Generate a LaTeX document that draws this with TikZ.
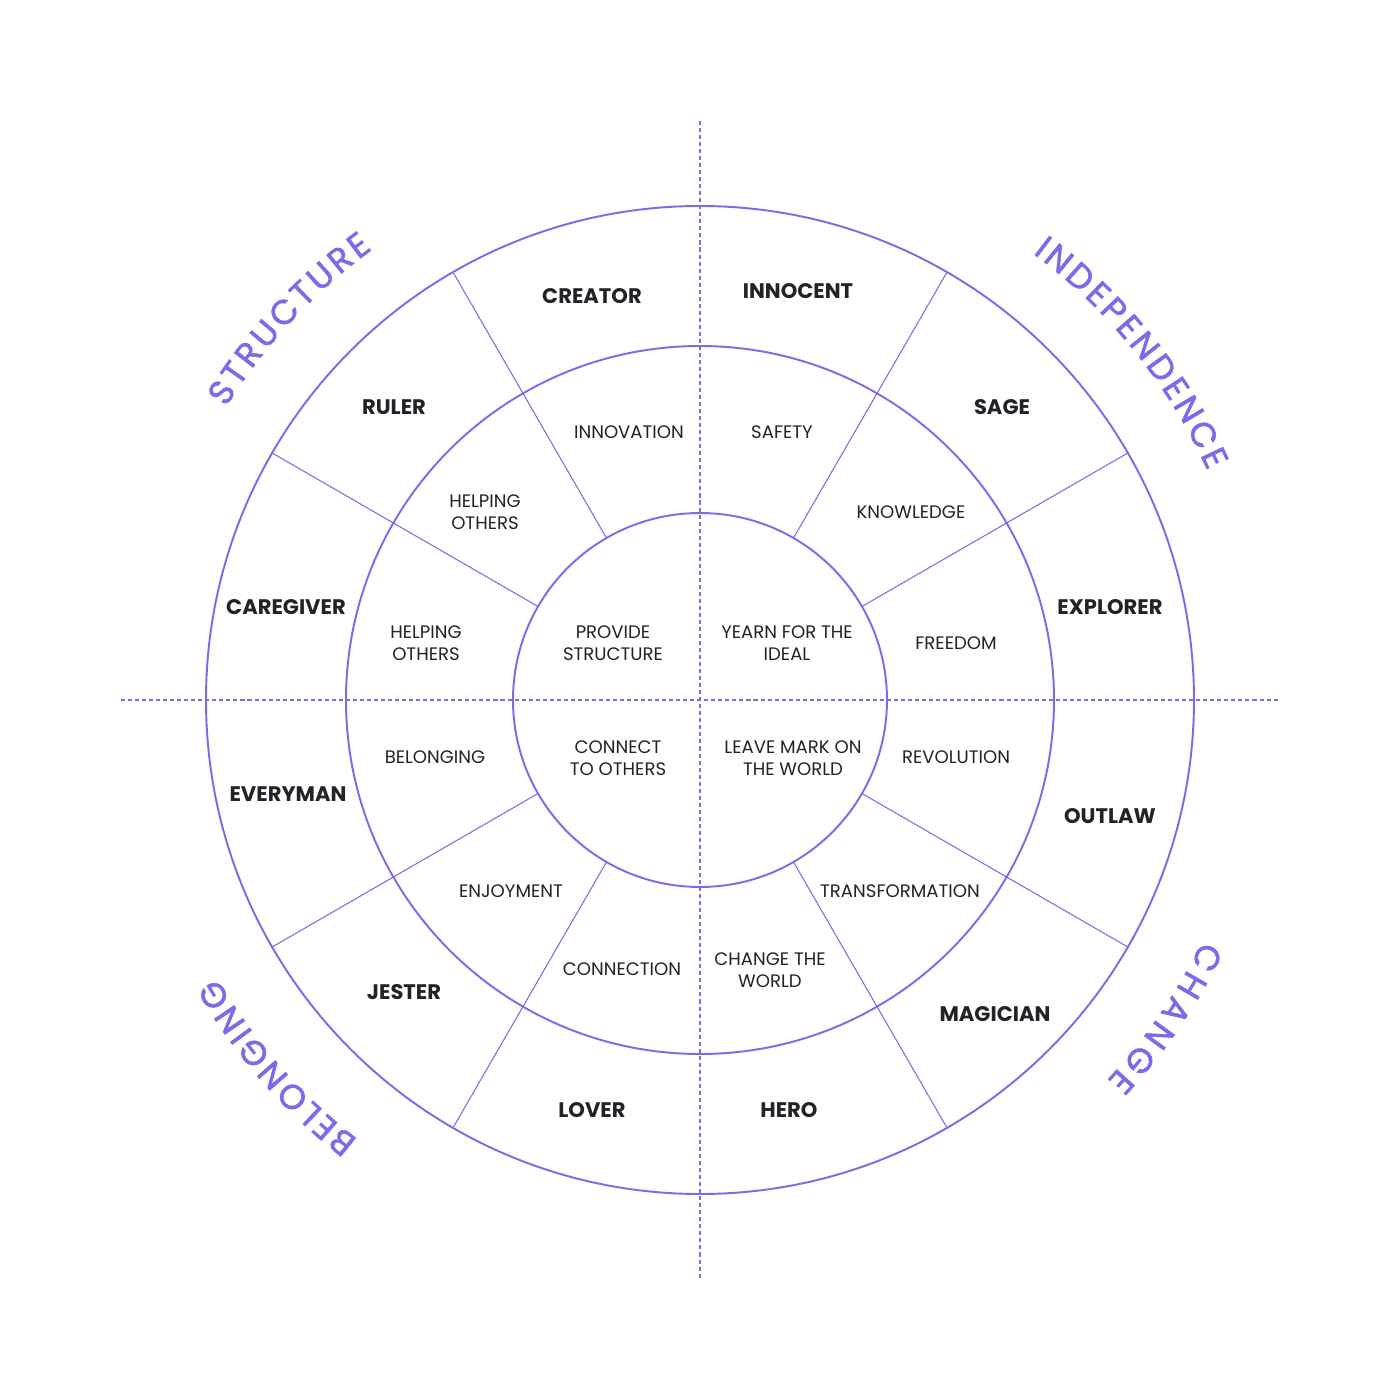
\documentclass[tikz,border=0pt]{standalone}
\usepackage{fontspec}
\setmainfont{Poppins}
\newfontfamily\arcfamily[FakeBold=1.6]{Poppins}
\usetikzlibrary{decorations.text}
\definecolor{archpurple}{RGB}{125,106,234}
\definecolor{archink}{RGB}{34,34,40}
\newcommand{\arcfont}{\arcfamily\fontsize{19.5}{22}\selectfont}

\begin{document}
\begin{tikzpicture}[x=0.02cm, y=0.02cm,
  ring/.style={draw=archpurple, line width=1.1pt},
  spoke/.style={draw=archpurple, line width=0.6pt},
  axisline/.style={draw=archpurple, line width=0.8pt, dash pattern=on 2.3pt off 1.7pt},
  archetype/.style={font=\fontsize{12}{14}\selectfont\bfseries, text=archink},
  motive/.style={font=\fontsize{10.3}{12.5}\selectfont, text=archink, align=center},
  quadrant/.style={decorate, decoration={text along path, text align=fit to path, text color=archpurple}}]

% --- Marco ---
\fill[white] (-700,-700) rectangle (700,700);
\useasboundingbox (-700,-700) rectangle (700,700);

% --- Ejes ---
\draw[axisline] (0,579) -- (0,-579);
\draw[axisline] (-579,0) -- (579,0);

% --- Anillos ---
\draw[ring] (0,0) circle[radius=494];
\draw[ring] (0,0) circle[radius=354];
\draw[ring] (0,0) circle[radius=187];

% --- Radios ---
\foreach \a in {30,60,120,150,210,240,300,330} {
    \draw[spoke] (\a:187) -- (\a:494);
}

% --- Arquetipos (anillo exterior) ---
\node[archetype] (creator)   at (-108, 404) {CREATOR};
\node[archetype] (innocent)  at (98, 409)   {INNOCENT};
\node[archetype] (sage)      at (302, 293)  {SAGE};
\node[archetype] (explorer)  at (410, 93)   {EXPLORER};
\node[archetype] (outlaw)    at (410, -116) {OUTLAW};
\node[archetype] (magician)  at (295, -314) {MAGICIAN};
\node[archetype] (hero)      at (89, -410)  {HERO};
\node[archetype] (lover)     at (-108, -410) {LOVER};
\node[archetype] (jester)    at (-296, -292) {JESTER};
\node[archetype] (everyman)  at (-412, -94) {EVERYMAN};
\node[archetype] (caregiver) at (-414, 93)  {CAREGIVER};
\node[archetype] (ruler)     at (-306, 293) {RULER};

% --- Motivaciones (anillo medio) ---
\node[motive] (innovation) at (-71, 268)  {INNOVATION};
\node[motive] (safety)     at (82, 268)   {SAFETY};
\node[motive] (knowledge)  at (211, 188)  {KNOWLEDGE};
\node[motive] (freedom)    at (256, 57)   {FREEDOM};
\node[motive] (revolution) at (256, -57)  {REVOLUTION};
\node[motive] (transform)  at (200, -191) {TRANSFORMATION};
\node[motive] (changew)    at (70, -270)  {CHANGE THE\\WORLD};
\node[motive] (connection) at (-78, -269) {CONNECTION};
\node[motive] (enjoyment)  at (-189, -191) {ENJOYMENT};
\node[motive] (belonging)  at (-265, -57) {BELONGING};
\node[motive] (helpingA)   at (-274, 57)  {HELPING\\OTHERS};
\node[motive] (helpingB)   at (-215, 188) {HELPING\\OTHERS};

% --- Metas (anillo interior) ---
\node[motive] (provide) at (-87, 57)  {PROVIDE\\STRUCTURE};
\node[motive] (yearn)   at (87, 57)   {YEARN FOR THE\\IDEAL};
\node[motive] (connect) at (-82, -58) {CONNECT\\TO OTHERS};
\node[motive] (leave)   at (93, -58)  {LEAVE MARK ON\\THE WORLD};

% --- Cuadrantes (texto curvo) ---
\path[quadrant, decoration={text={|\arcfont|STRUCTURE}}]
    (148.3:557) arc[start angle=148.3, end angle=126.0, radius=557];
\path[quadrant, decoration={text={|\arcfont|INDEPENDENCE}}]
    (53.3:557) arc[start angle=53.3, end angle=24.3, radius=557];
\path[quadrant, decoration={text={|\arcfont|CHANGE}}]
    (-25.6:557) arc[start angle=-25.6, end angle=-43.1, radius=557];
\path[quadrant, decoration={text={|\arcfont|BELONGING}}]
    (232.1:557) arc[start angle=232.1, end angle=209.9, radius=557];

\end{tikzpicture}
\end{document}
